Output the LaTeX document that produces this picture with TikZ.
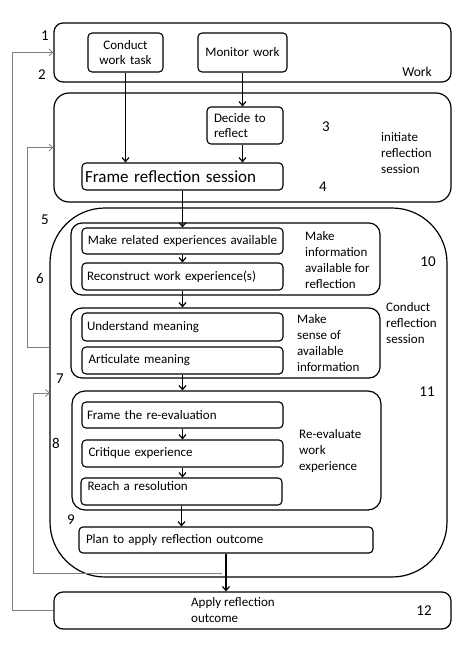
\documentclass[tikz,border=0pt]{standalone}
\usepackage{fontspec}
\setmainfont{Carlito}
\usetikzlibrary{arrows.meta}
\begin{document}
\begin{tikzpicture}[x=1pt,y=-1pt,
  font=\fontsize{13}{15.5}\selectfont,
  outer/.style={draw, line width=1.2pt, rounded corners=9pt},
  box/.style={draw, line width=1.1pt, rounded corners=4pt, inner xsep=5pt, inner ysep=0pt, align=left},
  lbl/.style={anchor=west, align=left, inner sep=0pt, font=\fontsize{13}{16}\selectfont},
  num/.style={inner sep=0pt, font=\fontsize{15}{16}\selectfont},
  arr/.style={-{Straight Barb[length=4pt,width=7pt]}, line width=1.2pt},
  garr/.style={draw=gray, line width=0.8pt, -{Straight Barb[length=4pt,width=7pt]}}
]
\useasboundingbox (0,0) rectangle (474,646);

% outer containers
\node[outer, minimum width=397pt, minimum height=59pt] (work) at (252.5,52.5) {};
\node[outer, rounded corners=15pt, minimum width=397pt, minimum height=109pt] (init) at (252.5,147.5) {};
\node[outer, rounded corners=55pt, minimum width=397pt, minimum height=369pt] (big) at (248.5,392.5) {};
\node[outer, minimum width=397pt, minimum height=37pt] (apply) at (252.5,610.5) {};

% group boxes
\node[outer, rounded corners=11pt, minimum width=309pt, minimum height=72pt] (info) at (225.5,259) {};
\node[outer, rounded corners=11pt, minimum width=309pt, minimum height=70pt] (sense) at (225.5,343) {};
\node[outer, rounded corners=13pt, minimum width=309pt, minimum height=119pt] (reeval) at (226.5,450.5) {};

% step boxes
\node[box, align=center, text width=71pt, inner xsep=2pt, minimum height=39pt] (conduct) at (125.5,52.5) {Conduct\\work task};
\node[box, align=center, text width=85pt, inner xsep=2pt, minimum height=39pt] (monitor) at (242.5,52.5) {Monitor work};
\node[box, text width=62pt, inner xsep=7pt, minimum height=37pt] (decide) at (245,125.5) {Decide to\\reflect};
\node[box, text width=195pt, inner xsep=3pt, minimum height=27pt, font=\fontsize{17}{19}\selectfont] (frame) at (182.5,176.5) {Frame reflection session};

\node[box, align=center, text width=197pt, inner xsep=2pt, minimum height=26pt] (related) at (182.5,241) {Make related experiences available};
\node[box, text width=191pt, minimum height=27pt] (recon) at (182.5,276.5) {Reconstruct work experience(s)};
\node[box, text width=191pt, minimum height=28pt] (under) at (182.5,327) {Understand meaning};
\node[box, text width=188pt, inner xsep=6.5pt, minimum height=27pt] (artic) at (182.5,360.5) {Articulate meaning};
\node[box, text width=191pt, minimum height=26pt] (framere) at (182.5,415) {Frame the re-evaluation};
\node[box, text width=188pt, inner xsep=6.5pt, minimum height=27pt] (crit) at (182.5,453.5) {Critique experience};
\node[box, text width=188pt, inner xsep=6.5pt, minimum height=27pt, text height=9pt, text depth=3pt] (reach) at (181.5,491.5) {\raisebox{4.5pt}{Reach a resolution}};
\node[box, text width=280pt, inner xsep=7pt, minimum height=26pt] (plan) at (226,540) {Plan to apply reflection outcome};

% labels
\node[anchor=east, inner sep=0pt, font=\fontsize{13.5}{14}\selectfont] (worklbl) at (432,72) {Work};
\node[lbl] (initlbl) at (381,153) {initiate\\reflection\\session};
\node[lbl] (infolbl) at (305,260) {Make\\information\\available for\\reflection};
\node[lbl] (senselbl) at (297,343) {Make\\sense of\\available\\information};
\node[lbl] (conductlbl) at (386,323) {Conduct\\reflection\\session};
\node[lbl] (reevallbl) at (299,451) {Re-evaluate\\work\\experience};
\node[lbl] (applylbl) at (191,610.5) {Apply reflection\\outcome};

% numbers
\node[num] (n1) at (45,36) {1};
\node[num] (n2) at (42,75) {2};
\node[num] (n3) at (326,127) {3};
\node[num] (n4) at (323,187) {4};
\node[num] (n5) at (45,220) {5};
\node[num] (n6) at (40,278) {6};
\node[num] (n7) at (60,379) {7};
\node[num] (n8) at (56,443) {8};
\node[num] (n9) at (71,520) {9};
\node[num] (n10) at (428,262) {10};
\node[num] (n11) at (427,392) {11};
\node[num] (n12) at (424,610.5) {12};

% black flow arrows
\draw[arr] (conduct.south) -- (conduct.south |- frame.north);
\draw[arr] (monitor.south) -- (monitor.south |- decide.north);
\draw[arr] (decide.south -| monitor.south) -- (frame.north -| monitor.south);
\draw[arr] (frame.south) -- (related.north);
\draw[arr] (related.south) -- (recon.north);
\draw[arr] (recon.south) -- (sense.north -| recon.south);
\draw[arr] (artic.south) -- (reeval.north -| artic.south);
\draw[arr] (framere.south) -- (crit.north);
\draw[arr] (crit.south) -- (reach.north -| crit.south);
\draw[arr] (reach.south) -- (plan.north -| reach.south);
\draw[arr] (plan.south) -- (apply.north -| plan.south);

% gray feedback arrows
\coordinate (g1x) at (12,0);
\draw[garr] (apply.west) -- (apply.west -| g1x) |- (work.west);
\coordinate (g2s) at (50,347);
\coordinate (g2x) at (27,0);
\draw[garr] (g2s) -- (g2s -| g2x) |- (init.west);
\coordinate (g3s) at (222,573);
\coordinate (g3x) at (33,0);
\coordinate (g3e) at (50,393);
\draw[garr] (g3s) -- (g3s -| g3x) |- (g3e);
\end{tikzpicture}
\end{document}
